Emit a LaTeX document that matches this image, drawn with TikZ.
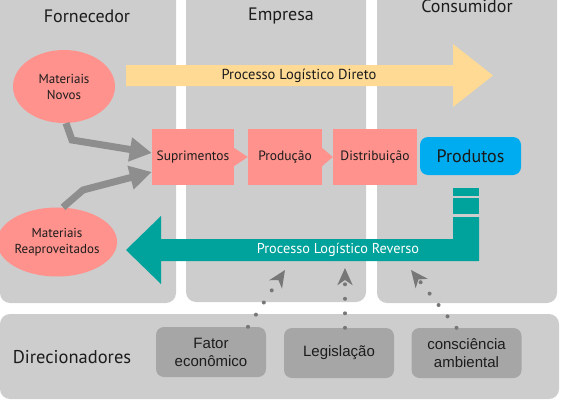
\documentclass[tikz,border=0pt]{standalone}
\usepackage{fontspec}
\setmainfont{PT Sans}
\newfontfamily\arialfont{Liberation Sans}
\usetikzlibrary{arrows.meta,shapes.geometric}
\definecolor{colgray}{RGB}{205,205,205}
\definecolor{drvgray}{RGB}{166,166,166}
\definecolor{salmon}{RGB}{255,146,140}
\definecolor{sunny}{RGB}{255,218,148}
\definecolor{tealc}{RGB}{0,163,156}
\definecolor{skyc}{RGB}{0,172,240}
\definecolor{arrowgray}{RGB}{142,142,142}
\definecolor{dotgray}{RGB}{119,119,119}
\definecolor{ink}{RGB}{28,28,28}

\begin{document}
\begin{tikzpicture}[x=1pt,y=-1pt,
    lane/.style={fill=colgray, rounded corners=10pt},
    title/.style={text=ink, font=\fontsize{18}{21}\selectfont},
    source/.style={ellipse, fill=salmon, inner sep=0pt, align=center, text=ink, font=\fontsize{13}{16}\selectfont},
    stage/.style={fill=salmon, minimum height=56pt, inner sep=0pt, text=ink, font=\fontsize{13.5}{16}\selectfont},
    driver/.style={fill=drvgray, rounded corners=8pt, minimum width=110pt, minimum height=50pt, inner sep=0pt, align=center, text=ink, font=\arialfont\fontsize{15}{18}\selectfont},
    feed/.style={draw=arrowgray, line width=7pt, -{Triangle[length=22pt,width=23pt]}},
    push/.style={draw=dotgray, line width=4pt, line cap=round, dash pattern=on 0pt off 14.5pt, -{Stealth[length=17pt,width=15pt,inset=5pt]}}]
    \useasboundingbox (0,0) rectangle (567,404);

    \fill[lane] (0,-20) rectangle (176,303);
    \fill[lane] (186,-20) rectangle (366,302);
    \fill[lane] (377,-20) rectangle (557,303);
    \fill[lane] (0,314) rectangle (559,399);

    \node[title] (FT) at (87,16)  {Fornecedor};
    \node[title] (ET) at (281,16) {Empresa};
    \node[title] (CT) at (467,6)  {Consumidor};

    \fill[sunny] (126,65) -- (453,65) -- (453,44) -- (493,75.5) -- (453,107) -- (453,86) -- (126,86) -- cycle;
    \node[text=ink, font=\fontsize{14.5}{17}\selectfont] (PD) at (299,75.5) {Processo Log\'istico Direto};

    \fill[tealc] (453,188) rectangle (479,196);
    \fill[tealc] (453,198) rectangle (479,214);
    \fill[tealc] (479,217) -- (479,261) -- (161,261) -- (161,284) -- (126,250) -- (161,216) -- (161,239) -- (453,239) -- (453,217) -- cycle;
    \node[text=white, font=\fontsize{14.3}{17}\selectfont] (PR) at (338,250) {Processo Log\'istico Reverso};

    \node[source, minimum width=102pt, minimum height=73pt] (MN) at (64,86.5) {Materiais\\Novos};
    \node[source, minimum width=114pt, minimum height=69pt] (MR) at (57,242) {Materiais\\Reaproveitados};

    \node[stage, minimum width=82pt] (S) at (193,157) {Suprimentos};
    \node[stage, minimum width=74pt] (P) at (285,157) {Produ\c{c}\~ao};
    \node[stage, minimum width=84pt] (D) at (375,157) {Distribui\c{c}\~ao};
    \node[fill=skyc, rounded corners=8pt, minimum width=101pt, minimum height=38pt, inner sep=0pt, text=black!90, font=\fontsize{18}{21}\selectfont] (PT) at (470.5,156) {Produtos};

    \fill[salmon] ([yshift=9pt]S.east) -- (P.west) -- ([yshift=-9pt]S.east) -- cycle;
    \fill[salmon] ([yshift=9pt]P.east) -- (D.west) -- ([yshift=-9pt]P.east) -- cycle;

    \draw[feed] ([xshift=2pt]MN.south) -- (72,140) -- ([yshift=4pt]S.west);
    \draw[feed] ([xshift=6pt]MR.north) -- (83,190) -- ([yshift=-15pt]S.west);

    \node[text=ink, font=\fontsize{18.5}{22}\selectfont] (DR) at (72,357) {Direcionadores};
    \node[driver] (F1) at (211,352) {Fator\\econ\^omico};
    \node[driver] (L1) at (339,353) {Legisla\c{c}\~ao};
    \node[driver] (C1) at (466.5,353) {consci\^encia\\ambiental};

    \coordinate (t1) at (285,270);
    \coordinate (t2) at (345,268);
    \coordinate (t3) at (411,270);
    \draw[push] ([xshift=37pt]F1.north) -- (t1);
    \draw[push] ([xshift=6pt]L1.north) -- (t2);
    \draw[push] ([xshift=-10pt]C1.north) -- (t3);
\end{tikzpicture}
\end{document}
